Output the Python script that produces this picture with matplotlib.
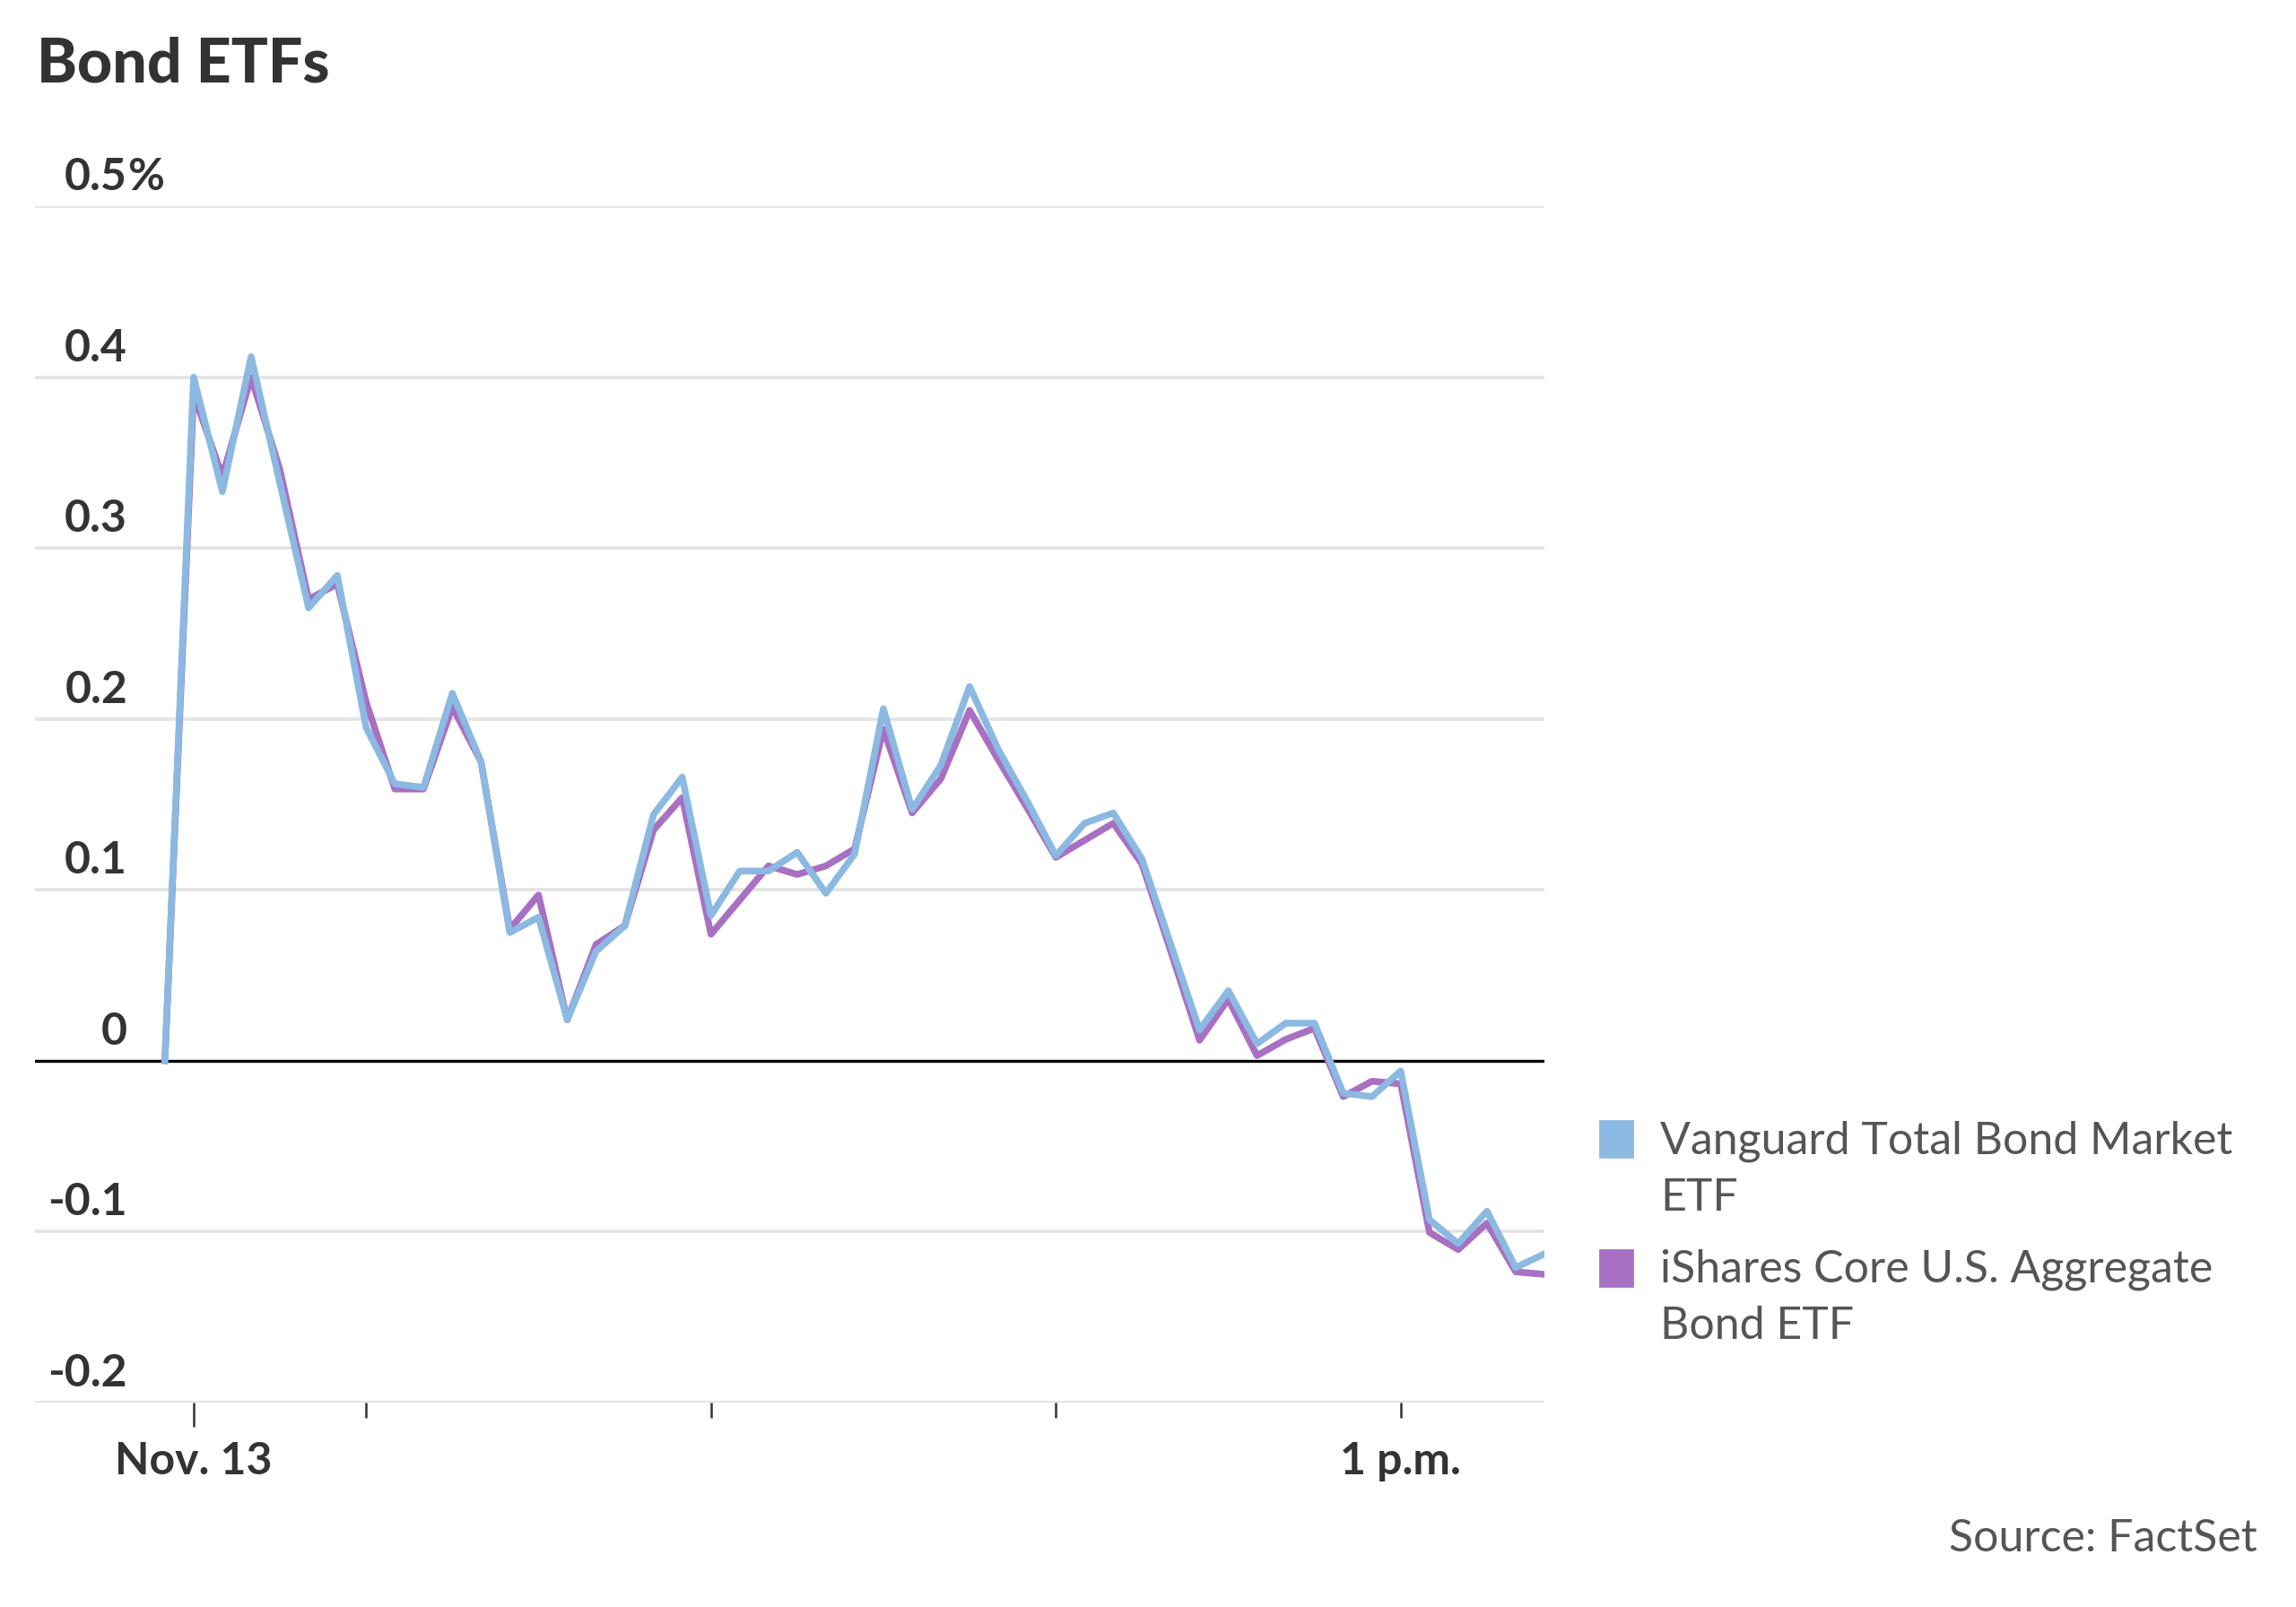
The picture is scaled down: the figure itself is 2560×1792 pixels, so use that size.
import numpy as np
import pandas as pd
import matplotlib.pyplot as plt
import matplotlib.dates as mdates
from matplotlib.patches import Rectangle

plt.rcParams['font.family'] = ['Lato', 'DejaVu Sans']

# === Data (percent change, 5-minute steps, Nov. 13) ===
times = pd.date_range('2023-11-13 09:25', '2023-11-13 13:25', freq='5min')
vanguard = [0.000, 0.400, 0.333, 0.412, 0.338, 0.265, 0.284, 0.195, 0.162, 0.160,
            0.215, 0.175, 0.075, 0.084, 0.024, 0.064, 0.079, 0.144, 0.166, 0.085,
            0.111, 0.111, 0.122, 0.098, 0.121, 0.206, 0.147, 0.173, 0.219, 0.182,
            0.152, 0.120, 0.139, 0.145, 0.118, 0.068, 0.018, 0.041, 0.010, 0.022,
            0.022, -0.019, -0.021, -0.006, -0.093, -0.107, -0.088, -0.121, -0.113]
ishares = [0.000, 0.390, 0.342, 0.400, 0.346, 0.270, 0.279, 0.210, 0.159, 0.159,
           0.207, 0.175, 0.077, 0.097, 0.024, 0.068, 0.079, 0.135, 0.154, 0.074,
           0.094, 0.114, 0.109, 0.114, 0.124, 0.194, 0.145, 0.165, 0.205, 0.176,
           0.148, 0.119, 0.129, 0.139, 0.115, 0.064, 0.012, 0.036, 0.003, 0.0125,
           0.019, -0.021, -0.012, -0.0135, -0.1005, -0.1105, -0.095, -0.1235, -0.125]
yticks = [0.5, 0.4, 0.3, 0.2, 0.1, 0, -0.1, -0.2]
ylabels = ['0.5', '0.4', '0.3', '0.2', '0.1', '0', '-0.1', '-0.2']
xticks = pd.to_datetime(['2023-11-13 09:30', '2023-11-13 10:00', '2023-11-13 11:00',
                         '2023-11-13 12:00', '2023-11-13 13:00'])
xlabels = ['Nov. 13', '', '', '', '1 p.m.']

BLUE = '#8BB9E2'
PURPLE = '#A870C3'
DARK = '#333333'
GREY = '#555555'

W, H = 2560, 1792
fig = plt.figure(figsize=(12.8, 8.96), dpi=200)

def fx(px):
    return px / W

def fy(py):
    return 1 - py / H

# axes: left 39, right 1722, top 230, bottom 1564 (pixels)
ax = fig.add_axes([fx(39), fy(1564), fx(1722) - fx(39), fy(230) - fy(1564)])

# gridlines + zero line
for v in yticks:
    if v == 0:
        ax.axhline(0, color='black', lw=1.2, zorder=3)
    else:
        ax.axhline(v, color='#E3E3E3', lw=1.3, zorder=1)

ax.plot(times, ishares, color=PURPLE, lw=2.7, zorder=4)
ax.plot(times, vanguard, color=BLUE, lw=2.7, zorder=5)

ax.set_ylim(-0.2, 0.5)
ax.set_xlim(pd.Timestamp('2023-11-13 09:02:24'), pd.Timestamp('2023-11-13 13:25'))

for s in ax.spines.values():
    s.set_visible(False)

ax.set_yticks([])
ax.set_xticks(xticks)
ax.set_xticklabels(xlabels, fontsize=18, fontweight='bold', color=DARK)
ax.tick_params(axis='x', length=6.1, width=0.9, color=DARK, pad=9.5)
ax.xaxis.get_major_ticks()[0].tick1line.set_markersize(9.7)

# y tick labels: right aligned, sitting above the gridlines
lab_x = (142 - 39) / (1722 - 39)
for v, lab in zip(yticks, ylabels):
    ax.annotate(lab, xy=(lab_x, v), xycoords=('axes fraction', 'data'),
                xytext=(0, 6.5), textcoords='offset points',
                ha='right', va='baseline', fontsize=18, fontweight='bold',
                color=DARK, annotation_clip=False)
ax.annotate('%', xy=(lab_x, 0.5), xycoords=('axes fraction', 'data'),
            xytext=(0, 6.5), textcoords='offset points',
            ha='left', va='baseline', fontsize=18, fontweight='bold',
            color=DARK, annotation_clip=False)

# title
fig.text(fx(41), fy(92), 'Bond ETFs', fontsize=24.5, fontweight='black',
         color=DARK, ha='left', va='baseline')

# legend
fig.patches.append(Rectangle((fx(1784), fy(1290)), fx(36), 40 / H,
                             transform=fig.transFigure, color=BLUE))
fig.patches.append(Rectangle((fx(1784), fy(1434)), fx(36), 40 / H,
                             transform=fig.transFigure, color=PURPLE))
fig.text(fx(1851), fy(1350), 'Vanguard Total Bond Market\nETF', fontsize=18,
         color=GREY, ha='left', va='baseline', linespacing=1.45)
fig.text(fx(1851), fy(1493), 'iShares Core U.S. Aggregate\nBond ETF', fontsize=18,
         color=GREY, ha='left', va='baseline', linespacing=1.45)

fig.text(fx(2517), fy(1730), 'Source: FactSet', fontsize=18, color=GREY,
         ha='right', va='baseline')

fig.savefig('out.png', dpi=200, facecolor='white')
